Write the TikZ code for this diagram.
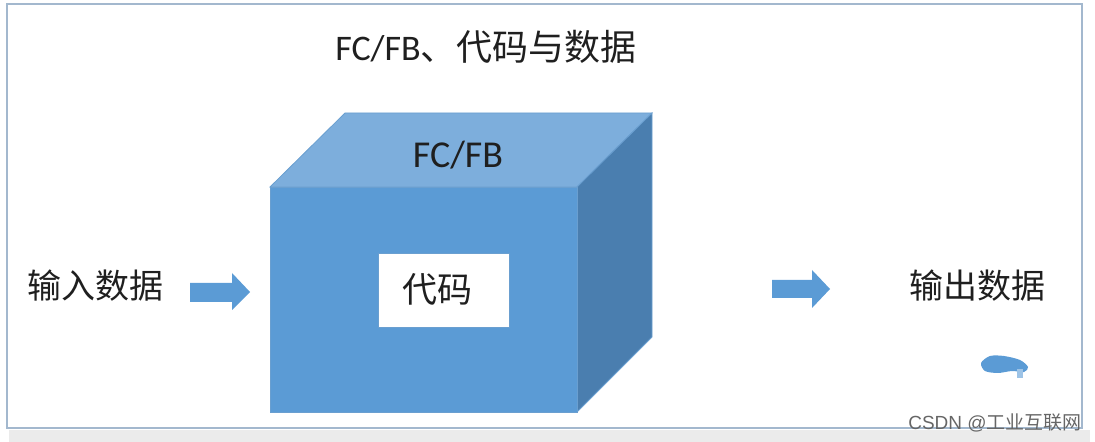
\documentclass[tikz,border=0pt]{standalone}
\usepackage{fontspec}
\setmainfont{Carlito}
\newfontfamily\cjk{Noto Sans CJK SC}
\newfontfamily\wmfont{Liberation Sans}
\definecolor{frontblue}{HTML}{5B9BD5}
\definecolor{topblue}{HTML}{7DAEDC}
\definecolor{sideblue}{HTML}{4A7EAF}
\definecolor{edgeblue}{HTML}{6A9FD0}
\definecolor{framecol}{HTML}{A3B8CE}
\begin{document}
\begin{tikzpicture}[x=0.5pt, y=-0.5pt,
	txt/.style={text=black!88, inner sep=0pt, font=\fontsize{17}{20}\selectfont}]
	\useasboundingbox (0,0) rectangle (1095,442);
	\fill [black!8] (9,430) rectangle (1090,442);
	\draw [framecol, line width=1pt] (7,4) rectangle (1082,428);
	% cube
	\filldraw [fill=topblue, draw=edgeblue, line width=0.4pt] (270,187) -- (345,113) -- (652,113) -- (577,187) -- cycle;
	\filldraw [fill=sideblue, draw=edgeblue, line width=0.4pt] (577,187) -- (652,113) -- (652,337) -- (577,412) -- cycle;
	\filldraw [fill=frontblue, draw=edgeblue, line width=0.4pt] (270,187) rectangle (577,412);
	\filldraw [fill=white, draw=edgeblue, line width=0.4pt] (378,253) rectangle (509,327);
	% arrows
	\fill [frontblue] (190,283) -- (232,283) -- (232,273) -- (250,292) -- (232,310) -- (232,302) -- (190,302) -- cycle;
	\fill [frontblue] (772,280) -- (812,280) -- (812,270) -- (830,289) -- (812,308) -- (812,298) -- (772,298) -- cycle;
	% blob
	\fill [frontblue] plot [smooth cycle] coordinates {(981,363) (990,356) (1004,356) (1020,360) (1028,367) (1024,372) (1012,371) (998,373) (985,371)};
	\fill [frontblue!60] (1017,369) rectangle (1023,378);
	% texts
	\node [txt, font=\fontsize{18}{21}\selectfont] (title) at (486,47) {FC/FB{\cjk 、代码与数据}};
	\node [txt, font=\fontsize{19}{22}\selectfont] (fcfb) at (458,155) {FC/FB};
	\node [txt, font=\fontsize{17.5}{21}\selectfont] (code) at (437,289) {\cjk 代码};
	\node [txt] (input) at (95,286) {\cjk 输入数据};
	\node [txt] (output) at (977,286) {\cjk 输出数据};
	\node [text=black!60, inner sep=0pt, font=\wmfont\fontsize{9.5}{11}\selectfont] (mark) at (995,423) {CSDN @{\cjk 工业互联网}};
\end{tikzpicture}
\end{document}
